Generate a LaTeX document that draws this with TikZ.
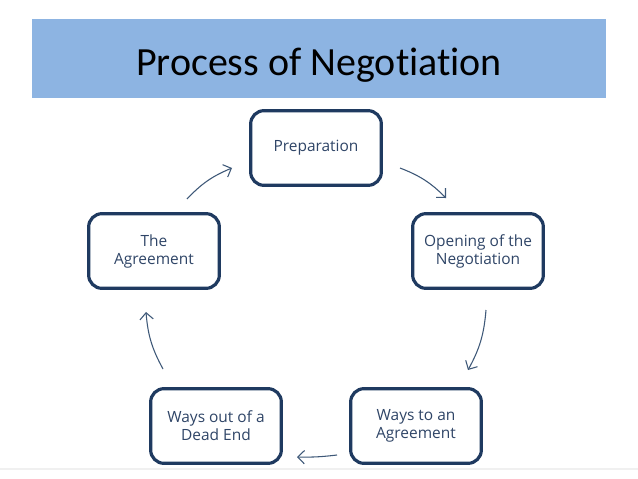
\documentclass[tikz,border=0pt]{standalone}
\usepackage{fontspec}
\setmainfont{Open Sans}
\newfontfamily\titlefont[Ligatures=NoCommon]{Carlito}
\usetikzlibrary{arrows.meta}
\definecolor{banner}{HTML}{8DB4E2}
\definecolor{navy}{HTML}{1F3A60}
\definecolor{stagetext}{HTML}{2F4567}
\definecolor{flowline}{HTML}{3E5878}

\begin{document}
\begin{tikzpicture}[x=0.75pt, y=-0.75pt,
	stage/.style={draw=navy, line width=2.4pt, rounded corners=10pt, fill=white,
		minimum width=98pt, minimum height=56pt, align=center, text=stagetext,
		font=\fontsize{11.6}{13.5}\selectfont},
	flow/.style={draw=flowline, line width=0.8pt, bend left=12,
		-{Straight Barb[length=5pt,width=10pt]}}]
\useasboundingbox (0,0) rectangle (638,478);
\fill[white] (0,0) rectangle (638,478);
\draw[gray!12, line width=1pt] (0,469) -- (638,469);
% title banner
\fill[banner] (32,19) rectangle (606,98);
\node (title) at (319,65) {\titlefont\fontsize{30}{34}\selectfont Process of Negotiation};
% the five stages
\node[stage] (prep) at (316,148) {Preparation};
\node[stage] (open) at (478,251) {Opening of the\\Negotiation};
\node[stage] (waysto) at (416,426) {Ways to an\\Agreement};
\node[stage] (waysout) at (216,426) {Ways out of a\\Dead End};
\node[stage] (agree) at (154,251) {The\\Agreement};
% arrow ends
\coordinate (prepR) at (400,168);
\coordinate (openT) at (446,198);
\coordinate (openB) at (486,310);
\coordinate (waystoT) at (468,370);
\coordinate (waystoL) at (337,455);
\coordinate (waysoutR) at (297,457);
\coordinate (waysoutT) at (163,369);
\coordinate (agreeB) at (146,312);
\coordinate (agreeT) at (187,199);
\coordinate (prepL) at (232,168);
\draw[flow] (prepR) to (openT);
\draw[flow] (openB) to (waystoT);
\draw[flow, bend left=4] (waystoL) to (waysoutR);
\draw[flow] (waysoutT) to (agreeB);
\draw[flow] (agreeT) to (prepL);
\end{tikzpicture}
\end{document}
